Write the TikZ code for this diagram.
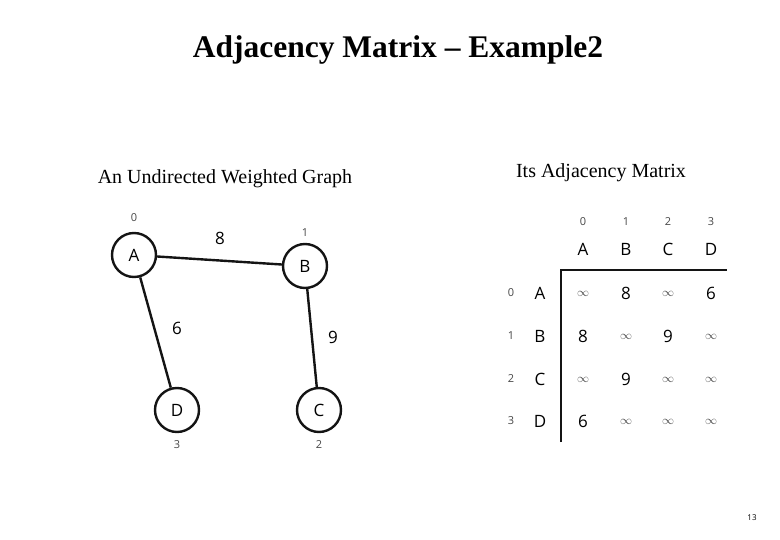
\documentclass[tikz,border=0pt]{standalone}
\usepackage{fontspec}
\setmainfont{Liberation Serif}
\newfontfamily\graphfont{Open Sans}
\usepackage{tikz}
\usetikzlibrary{positioning}
\definecolor{mydark}{RGB}{20,20,20}
\definecolor{mygrey}{RGB}{70,70,70}
\tikzset{
  vertex/.style={circle, draw=mydark, line width=2.4pt, minimum size=44pt, inner sep=0pt, font=\graphfont\fontsize{17}{17}\selectfont},
  idx/.style={font=\graphfont\fontsize{11}{11}\selectfont, text=mygrey},
  wgt/.style={font=\graphfont\fontsize{17}{17}\selectfont},
  edge/.style={line width=2.4pt, color=mydark},
  cell/.style={font=\graphfont\fontsize{17}{17}\selectfont},
  inf/.style={font=\fontsize{13}{13}\selectfont, text=mygrey},
  hdr/.style={font=\graphfont\fontsize{17}{17}\selectfont},
  rule/.style={line width=2.6pt, color=mydark}
}

\begin{document}
\begin{tikzpicture}[x=1pt, y=-1pt]
  \useasboundingbox (0,0) rectangle (780,540);

  % Titles
  \node[font=\bfseries\fontsize{31.5}{31.5}\selectfont] (title) at (398,50) {Adjacency Matrix -- Example2};
  \node[font=\fontsize{20}{20}\selectfont] (lefttitle) at (225,179) {An Undirected Weighted Graph};
  \node[font=\fontsize{20}{20}\selectfont] (righttitle) at (601,173) {Its Adjacency Matrix};

  % Graph
  \node[vertex] (A) at (134,255) {A};
  \node[vertex] (B) at (305,266) {B};
  \node[vertex] (D) at (177,410) {D};
  \node[vertex] (C) at (319,410) {C};
  \node[idx] (iA) at (134,218) {0};
  \node[idx] (iB) at (305,233) {1};
  \node[idx] (iD) at (177,445) {3};
  \node[idx] (iC) at (319,445) {2};
  \draw[edge] (A) -- (B);
  \draw[edge] (A) -- (D);
  \draw[edge] (B) -- (C);
  \node[wgt] (wAB) at (220,238) {8};
  \node[wgt] (wAD) at (177,328) {6};
  \node[wgt] (wBC) at (333,337) {9};

  % Column headers
  \node[idx] (c0) at (583,222) {0};
  \node[idx] (c1) at (626,222) {1};
  \node[idx] (c2) at (668,222) {2};
  \node[idx] (c3) at (711,222) {3};
  \node[hdr] (cA) at (583,249) {A};
  \node[hdr] (cB) at (626,249) {B};
  \node[hdr] (cC) at (668,249) {C};
  \node[hdr] (cD) at (711,249) {D};

  % Row headers
  \node[idx] (r0) at (511,293) {0};
  \node[idx] (r1) at (511,336) {1};
  \node[idx] (r2) at (511,379) {2};
  \node[idx] (r3) at (511,421) {3};
  \node[hdr] (rA) at (540,293) {A};
  \node[hdr] (rB) at (540,336) {B};
  \node[hdr] (rC) at (540,379) {C};
  \node[hdr] (rD) at (540,421) {D};

  % Rules
  \draw[rule] (561,442) -- (561,270) -- (727,270);

  % Row A
  \node[inf] (mAA) at (583,294) {$\infty$};
  \node[cell] (mAB) at (626,293) {8};
  \node[inf] (mAC) at (668,294) {$\infty$};
  \node[cell] (mAD) at (711,293) {6};

  % Row B
  \node[cell] (mBA) at (583,336) {8};
  \node[inf] (mBB) at (626,337) {$\infty$};
  \node[cell] (mBC) at (668,336) {9};
  \node[inf] (mBD) at (711,337) {$\infty$};

  % Row C
  \node[inf] (mCA) at (583,380) {$\infty$};
  \node[cell] (mCB) at (626,379) {9};
  \node[inf] (mCC) at (668,380) {$\infty$};
  \node[inf] (mCD) at (711,380) {$\infty$};

  % Row D
  \node[cell] (mDA) at (583,421) {6};
  \node[inf] (mDB) at (626,422) {$\infty$};
  \node[inf] (mDC) at (668,422) {$\infty$};
  \node[inf] (mDD) at (711,422) {$\infty$};

  % Page number
  \node[font=\graphfont\fontsize{8}{8}\selectfont] (page) at (752,518) {13};
\end{tikzpicture}
\end{document}
